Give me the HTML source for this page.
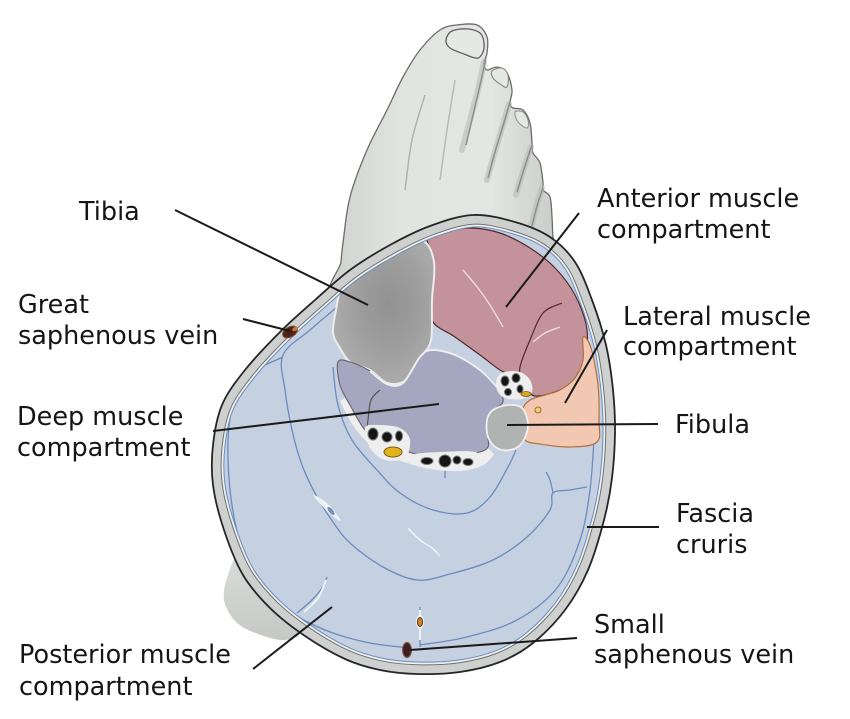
<!DOCTYPE html>
<html>
<head>
<meta charset="utf-8">
<style>
html,body{margin:0;padding:0;background:#fff;}
svg{display:block}
text{font-family:"DejaVu Sans","Liberation Sans",sans-serif;font-size:25.5px;fill:#151515}
</style>
</head>
<body>
<svg width="850" height="719" viewBox="0 0 850 719" xmlns="http://www.w3.org/2000/svg">
<defs>
<path id="outer" class="sm cl" d="M473 215 L515 222 L550 237 L575 262 L592 300 L606 345 L613 390 L615 433 L612 478 L604 520 L588 570 L565 610 L533 643 L500 662 L460 672 L417 674 L380 670 L345 659 L305 636 L270 608 L243 575 L224 530 L213 485 L213 445 L222 405 L245 370 L280 332 L315 300 L350 270 L390 245 L430 226"/>
<clipPath id="oc"><use href="#outer"/></clipPath>
<radialGradient id="tib" cx="0.55" cy="0.45" r="0.55">
<stop offset="0" stop-color="#929292"/><stop offset="0.5" stop-color="#9c9c9c"/><stop offset="1" stop-color="#ababab"/>
</radialGradient>
<linearGradient id="foot" x1="338" y1="0" x2="556" y2="0" gradientUnits="userSpaceOnUse">
<stop offset="0" stop-color="#d2d4d2"/><stop offset="0.3" stop-color="#e2e4e2"/><stop offset="0.7" stop-color="#e4e6e4"/><stop offset="1" stop-color="#cacccA"/>
</linearGradient>
<linearGradient id="heel" x1="0" y1="0" x2="0" y2="1">
<stop offset="0" stop-color="#dadcda"/><stop offset="1" stop-color="#c6c8c6"/>
</linearGradient>
</defs>

<!-- heel behind -->
<path class="sm cl" d="M240 558 L228 575 L224 600 L236 622 L258 634 L285 640 L300 630 L270 600" fill="url(#heel)"/>

<!-- foot -->
<path class="sm cl" d="M338 300 L341 262 L343 243 L350 197 L367 150 L387 110 L403 77 L420 50 L440 30 L457 25 L477 25 L487 37 L487 53 L484 63 L487 70 L497 67 L507 73 L512 90 L510 103 L513 108 L523 110 L530 123 L532 143 L533 153 L540 163 L543 183 L543 190 L550 197 L552 217 L553 237 L556 262 L470 300" fill="url(#foot)" stroke="#6a6c6a" stroke-width="1.3"/>
<g fill="none" stroke="#b9bbb9" stroke-width="6" stroke-linecap="round" opacity="0.6">
<path class="sm" d="M484 62 L478 90 L470 120 L462 150"/>
<path class="sm" d="M509 104 L502 128 L494 155 L487 180"/>
<path class="sm" d="M531 147 L524 168 L516 195"/>
<path class="sm" d="M542 188 L536 208 L531 228"/>
</g>
<g fill="none" stroke="#8d8f8d" stroke-width="1.5">
<path class="sm" d="M486 58 L480 85 L473 115 L466 145"/>
<path class="sm" d="M510 102 L503 126 L495 152 L488 178"/>
<path class="sm" d="M532 145 L525 166 L517 192"/>
<path class="sm" d="M543 188 L537 206 L532 226"/>
<path class="sm" d="M425 95 L412 140 L405 190" stroke="#b0b2b0"/>
<path class="sm" d="M455 80 L447 130 L440 180" stroke="#b8bab8"/>
</g>
<path class="sm cl" d="M446 40 L452 31 L468 29 L481 34 L484 48 L478 58 L464 54 L450 48" fill="#e6e8e6" stroke="#5e605e" stroke-width="1.3"/>
<path class="sm cl" d="M492 71 L502 68 L508 75 L507 87 L500 84 L493 78" fill="#e6e8e6" stroke="#7a7c7a" stroke-width="1"/>
<path class="sm cl" d="M515 112 L523 112 L528 120 L527 128 L518 122" fill="#e6e8e6" stroke="#8a8c8a" stroke-width="1"/>

<!-- cross-section -->
<g clip-path="url(#oc)">
<use href="#outer" fill="#c5d0e0"/>
<g fill="none" stroke="#6a8cc0" stroke-width="1.3">
<path class="sm" d="M337 307 L310 330 L283 355 L285 390 L292 430 L302 465 L317 497 L333 522 L350 543 L383 567 L417 580 L450 574 L493 560 L527 537 L550 510 L553 493 L570 490 L587 487"/>
<path class="sm" d="M283 357 L260 367 L240 375 L228 382"/>
<path class="sm" d="M232 405 L228 440 L230 490 L238 535 L252 573 L275 600 L300 618 L333 633 L370 643 L410 648"/>
<path class="sm" d="M420 645 L467 637 L517 620 L557 588 L580 540 L590 490 L594 440"/>
<path class="sm" d="M333 367 L338 405 L352 440 L377 470 L400 493 L433 510 L467 513 L490 497 L508 467 L516 450"/>
<path class="sm" d="M297 613 L312 600 L322 588 L327 577"/>
<path d="M420 607 L420 647"/>
<path class="sm" d="M553 493 L550 480 L546 472"/>
<path d="M445 466 L445 478"/>
</g>
<path class="sm cl" d="M313 495 L328 504 L341 521 L329 513" fill="#eef2f6"/>
<ellipse cx="331" cy="511" rx="2" ry="5" transform="rotate(-40 331 511)" fill="#6f8fbf"/>
<path class="sm" d="M408 528 L420 540 L432 548 L440 556" fill="none" stroke="#eef2f6" stroke-width="1.6"/>
<path class="sm" d="M304 612 L318 598 L326 580" fill="none" stroke="#eef2f6" stroke-width="2"/>
<path d="M420 610 L420 640" stroke="#eef2f6" stroke-width="2"/>

<!-- white band under deep -->
<path class="sm" d="M345 398 L360 425 L380 445 L405 456 L430 463 L460 465 L480 460 L490 450" fill="none" stroke="#eeeeee" stroke-width="12"/>

<!-- anterior -->
<path class="sm cl" d="M427 238 L440 232 L470 228 L500 233 L530 248 L555 268 L575 295 L587 330 L584 365 L575 380 L560 390 L535 396 L525 386 L515 377 L500 370 L480 355 L455 337 L433 322 L432 300 L434 262" fill="#c4929a" stroke="#4e2a2e" stroke-width="1.2"/>
<path class="sm" d="M562 303 L543 313 L530 340 L520 367 L521 384" fill="none" stroke="#4e2a2e" stroke-width="1.2"/>
<path class="sm" d="M463 270 L478 288 L490 305 L503 327" fill="none" stroke="#eadcdd" stroke-width="1.4"/>
<path class="sm" d="M533 342 L545 333 L560 327" fill="none" stroke="#eadcdd" stroke-width="1.4"/>

<!-- lateral -->
<path class="sm cl" d="M583 337 L591 348 L598 385 L599 420 L597 442 L570 447 L540 444 L525 440 L520 425 L522 410 L530 400 L545 395 L560 390 L575 378 L583 360" fill="#f2c8b3" stroke="#b0703a" stroke-width="1.2"/>

<!-- tibia -->
<path class="sm cl" d="M352 248 L390 240 L422 240 L434 262 L432 300 L431 340 L421 357 L413 372 L403 382 L387 383 L370 370 L350 362 L340 348 L333 333 L336 310 L342 280" fill="url(#tib)" stroke="#ececec" stroke-width="2"/>

<!-- deep -->
<path class="sm cl" d="M338 362 L350 362 L370 371 L387 384 L403 383 L420 357 L432 350 L455 355 L480 370 L497 387 L503 402 L490 413 L487 430 L488 447 L475 453 L445 456 L420 455 L400 449 L380 440 L365 430 L350 405 L340 385" fill="#a5a6bf" stroke="#6a5f6e" stroke-width="1.1"/>
<path class="sm" d="M380 390 L371 400 L368 420 L367 432" fill="none" stroke="#555" stroke-width="1.2"/>
<path class="sm" d="M370 371 L387 384 L403 383 L420 357 L432 350 L455 355 L480 370 L497 387" fill="none" stroke="#eeeeee" stroke-width="2"/>

<!-- fibula -->
<path class="sm cl" d="M493 410 L508 405 L522 408 L528 425 L522 443 L510 450 L497 448 L488 437 L487 420" fill="#b1b3b3" stroke="#f0f0f0" stroke-width="1.8"/>

<!-- vessels -->
<path class="sm cl" d="M497 378 L505 372 L520 372 L530 380 L532 392 L522 399 L505 398 L497 390" fill="#eeeeee"/>
<g fill="#151515" stroke="#777" stroke-width="1">
<ellipse cx="505" cy="381" rx="4" ry="5"/>
<ellipse cx="516" cy="378" rx="4" ry="4.5"/>
<ellipse cx="508" cy="392" rx="3.5" ry="3.5"/>
<ellipse cx="520" cy="389" rx="3" ry="4"/>
</g>
<ellipse cx="526" cy="394" rx="5" ry="2.5" fill="#d8a820" stroke="#7a5a10" stroke-width="0.8"/>
<circle cx="538" cy="410" r="3" fill="#f0d070" stroke="#a07020" stroke-width="1"/>

<path class="sm cl" d="M365 428 L378 425 L400 428 L410 440 L405 458 L385 460 L370 448" fill="#eeeeee"/>
<path class="sm cl" d="M412 455 L440 452 L475 452 L480 462 L460 468 L430 468 L414 464" fill="#eeeeee"/>
<g fill="#151515" stroke="#777" stroke-width="1">
<ellipse cx="373" cy="434" rx="5" ry="6"/>
<ellipse cx="387" cy="437" rx="5" ry="5"/>
<ellipse cx="399" cy="436" rx="3.5" ry="5"/>
<ellipse cx="427" cy="461" rx="6" ry="3.5"/>
<ellipse cx="445" cy="461" rx="6" ry="6"/>
<ellipse cx="457" cy="460" rx="4" ry="4"/>
<ellipse cx="468" cy="462" rx="5" ry="3.5"/>
</g>
<ellipse cx="393" cy="452" rx="9" ry="5" fill="#e0b41c" stroke="#7a5a10" stroke-width="1"/>

<!-- saphenous veins -->
<ellipse cx="420" cy="622" rx="4" ry="7" fill="#eef2f6"/>
<ellipse cx="420" cy="622" rx="2.6" ry="4.5" fill="#d08030" stroke="#5a3a1a" stroke-width="1"/>
<ellipse cx="407" cy="650" rx="4.5" ry="7.5" fill="#3a2020" stroke="#8a5a4a" stroke-width="1.2"/>

<!-- rim layers -->
<use href="#outer" fill="none" stroke="#6a8cc0" stroke-width="25"/>
<use href="#outer" fill="none" stroke="#eef0ee" stroke-width="23"/>
<use href="#outer" fill="none" stroke="#707270" stroke-width="19.5"/>
<use href="#outer" fill="none" stroke="#cdd0cf" stroke-width="17.5"/>
</g>
<use href="#outer" fill="none" stroke="#262626" stroke-width="1.8"/>
<ellipse cx="290" cy="332" rx="8" ry="5" transform="rotate(-30 290 332)" fill="#4a2418" stroke="#8a4a2a" stroke-width="1"/>
<ellipse cx="295" cy="329" rx="3" ry="2" transform="rotate(-30 295 329)" fill="#c87830"/>

<!-- leader lines -->
<g stroke="#1a1a1a" stroke-width="2" fill="none">
<line x1="175" y1="210" x2="368" y2="305"/>
<line x1="243" y1="319" x2="290" y2="331"/>
<line x1="213" y1="431" x2="439" y2="404"/>
<line x1="579" y1="213" x2="506" y2="307"/>
<line x1="607" y1="330" x2="565" y2="403"/>
<line x1="507" y1="425" x2="658" y2="424"/>
<line x1="587" y1="527" x2="659" y2="527"/>
<line x1="577" y1="638" x2="410" y2="650"/>
<line x1="253" y1="669" x2="332" y2="607"/>
</g>

<!-- labels -->
<text x="79" y="220">Tibia</text>
<text x="18" y="313">Great</text>
<text x="18" y="344">saphenous vein</text>
<text x="17" y="425">Deep muscle</text>
<text x="17" y="456">compartment</text>
<text x="597" y="207">Anterior muscle</text>
<text x="597" y="238">compartment</text>
<text x="623" y="325">Lateral muscle</text>
<text x="623" y="355">compartment</text>
<text x="675" y="433">Fibula</text>
<text x="676" y="522">Fascia</text>
<text x="676" y="553">cruris</text>
<text x="594" y="633">Small</text>
<text x="594" y="663">saphenous vein</text>
<text x="19" y="663">Posterior muscle</text>
<text x="19" y="695">compartment</text>
</svg>
<script>
(function(){
function sm(p){
  var nums=p.getAttribute('d').match(/-?\d+(\.\d+)?/g).map(Number);
  var P=[];for(var i=0;i+1<nums.length;i+=2)P.push([nums[i],nums[i+1]]);
  var c=(' '+p.getAttribute('class')+' ').indexOf(' cl ')>=0;
  var N=P.length;if(N<3)return;
  function g(i){ if(c) return P[((i%N)+N)%N]; return P[Math.max(0,Math.min(N-1,i))]; }
  var d='M'+P[0][0]+' '+P[0][1];
  var segs=c?N:N-1;
  for(var i=0;i<segs;i++){
    var p0=g(i-1),p1=g(i),p2=g(i+1),p3=g(i+2);
    var c1x=p1[0]+(p2[0]-p0[0])/6,c1y=p1[1]+(p2[1]-p0[1])/6;
    var c2x=p2[0]-(p3[0]-p1[0])/6,c2y=p2[1]-(p3[1]-p1[1])/6;
    d+=' C'+c1x.toFixed(1)+' '+c1y.toFixed(1)+' '+c2x.toFixed(1)+' '+c2y.toFixed(1)+' '+p2[0]+' '+p2[1];
  }
  if(c)d+=' Z';
  p.setAttribute('d',d);
}
var ps=document.querySelectorAll('path.sm');
for(var i=0;i<ps.length;i++)sm(ps[i]);
})();
</script>
</body>
</html>
